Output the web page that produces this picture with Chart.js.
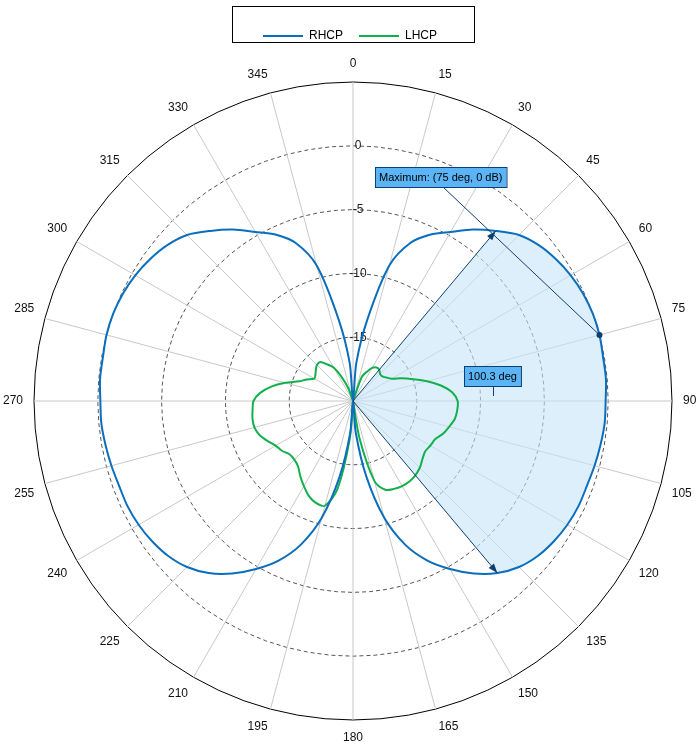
<!DOCTYPE html>
<html>
<head>
<meta charset="utf-8">
<script src="https://cdn.jsdelivr.net/npm/chart.js@4"></script>
<style>
  body { margin: 0; background: #fff; }
  #wrap { width: 700px; height: 750px; }
</style>
</head>
<body>
<div id="wrap"><canvas id="polarChart"></canvas></div>
<script>
// angles every 5 deg, labels shown every 15 deg
const angles = [];
for (let a = 0; a < 360; a += 5) angles.push(a);

const rhcp = [-20, -17, -13.5, -9, -6.8, -5.6, -4.7, -3.6, -2.6, -1.6, -1.0, -0.6,
  -0.3, -0.1, 0, 0, -0.1, -0.1, -0.2, -0.2, -0.3, -0.4, -0.5, -0.5,
  -0.6, -0.8, -1.1, -1.6, -2.4, -3.5, -4.8, -6.2, -8, -10.5, -14, -17.5,
  -20, -17.5, -14, -10.5, -8, -6.2, -4.8, -3.5, -2.4, -1.6, -1.1, -0.8,
  -0.6, -0.5, -0.5, -0.4, -0.3, -0.2, -0.2, -0.1, -0.1, 0, 0, -0.1,
  -0.3, -0.6, -1.0, -1.6, -2.6, -3.6, -4.7, -5.6, -6.8, -9, -13.5, -17];

const lhcp = [-20, -20, -20, -20, -18, -17.5, -17, -16.8, -16.8, -17, -17, -16.8,
  -16.5, -15.8, -15, -14, -13, -12.2, -11.8, -11.8, -11.9, -12.2, -12.5, -12.9,
  -13, -13.1, -12.9, -12.6, -12.4, -12.3, -12.3, -12.4, -12.6, -13.5, -17, -20,
  -20, -17, -13, -11.5, -11.5, -11.8, -12.3, -12.8, -13.3, -13.5, -13.5, -13.2,
  -13, -12.6, -12.2, -12, -12, -12.1, -12.2, -12.7, -13.5, -14.5, -15.5, -16,
  -16.5, -16.4, -16.2, -16, -16, -16.5, -17, -18, -19, -20, -20, -20];

// half-power beam shown as a shaded sector
const beamFrom = 40, beamTo = 140;
const beam = rhcp.map((v, i) => (angles[i] >= beamFrom && angles[i] <= beamTo) ? v : -20);

const radialTicks = [-20, -15, -10, -5, 0, 5];

const legendBox = {
  id: 'legendBox',
  afterDraw(chart) {
    const ctx = chart.ctx;
    ctx.save();
    ctx.strokeStyle = '#000';
    ctx.lineWidth = 1;
    ctx.strokeRect(232.5, 6.5, 242, 36);
    ctx.restore();
  }
};

const markers = {
  id: 'markers',
  afterDatasetsDraw(chart) {
    const s = chart.scales.r, ctx = chart.ctx;
    const c = s.getPointPositionForValue(0, -20);
    const iA = angles.indexOf(beamFrom), iB = angles.indexOf(beamTo), iM = angles.indexOf(75);
    const pA = s.getPointPositionForValue(iA, rhcp[iA]);
    const pB = s.getPointPositionForValue(iB, rhcp[iB]);
    const pM = s.getPointPositionForValue(iM, rhcp[iM]);
    ctx.save();
    ctx.strokeStyle = '#0d3f73';
    ctx.fillStyle = '#0d3f73';
    ctx.lineWidth = 1;
    [pA, pB].forEach(p => {
      ctx.beginPath(); ctx.moveTo(c.x, c.y); ctx.lineTo(p.x, p.y); ctx.stroke();
      const ang = Math.atan2(p.y - c.y, p.x - c.x);
      ctx.beginPath();
      ctx.moveTo(p.x, p.y);
      ctx.lineTo(p.x - 10 * Math.cos(ang - 0.35), p.y - 10 * Math.sin(ang - 0.35));
      ctx.lineTo(p.x - 10 * Math.cos(ang + 0.35), p.y - 10 * Math.sin(ang + 0.35));
      ctx.fill();
    });
    ctx.beginPath(); ctx.arc(pM.x, pM.y, 3, 0, 2 * Math.PI); ctx.fill();
    // maximum label
    ctx.font = '11px Arial, "Liberation Sans", sans-serif';
    const t1 = 'Maximum: (75 deg, 0 dB)';
    const w1 = ctx.measureText(t1).width + 8;
    const bx = 375, by = 167;
    ctx.beginPath(); ctx.moveTo(bx + 68, by + 20); ctx.lineTo(pM.x, pM.y); ctx.stroke();
    ctx.fillStyle = '#5bb4f5';
    ctx.fillRect(bx, by, w1, 20); ctx.strokeRect(bx + 0.5, by + 0.5, w1, 20);
    ctx.fillStyle = '#000';
    ctx.textBaseline = 'middle';
    ctx.fillText(t1, bx + 4, by + 11);
    // beam width label
    const t2 = '100.3 deg';
    const w2 = ctx.measureText(t2).width + 8;
    const cx = 464, cy = 366;
    ctx.fillStyle = '#5bb4f5';
    ctx.fillRect(cx, cy, w2, 20); ctx.strokeRect(cx + 0.5, cy + 0.5, w2, 20);
    ctx.beginPath(); ctx.moveTo(493.5, cy + 20); ctx.lineTo(493.5, cy + 30); ctx.stroke();
    ctx.fillStyle = '#000';
    ctx.fillText(t2, cx + 4, cy + 11);
    ctx.restore();
  }
};

document.addEventListener('DOMContentLoaded', function() {
  const ctx = document.getElementById('polarChart').getContext('2d');
  new Chart(ctx, {
    type: 'radar',
    data: {
      labels: angles,
      datasets: [{
        label: 'RHCP',
        data: rhcp,
        borderColor: '#0a6ebd',
        borderWidth: 2,
        pointRadius: 0,
        fill: false,
        tension: 0.3
      }, {
        label: 'LHCP',
        data: lhcp,
        borderColor: '#12b04c',
        borderWidth: 2,
        pointRadius: 0,
        fill: false,
        tension: 0.3
      }, {
        label: 'beam',
        data: beam,
        borderWidth: 0,
        backgroundColor: 'rgba(200, 228, 250, 0.6)',
        pointRadius: 0,
        fill: 'start',
        tension: 0
      }]
    },
    options: {
      responsive: true,
      maintainAspectRatio: false,
      animation: false,
      layout: { padding: { left: 0, right: 0, top: 14, bottom: 0 } },
      scales: {
        r: {
          min: -20,
          max: 5,
          startAngle: 0,
          afterBuildTicks: function(scale) {
            scale.ticks = radialTicks.map(v => ({ value: v }));
          },
          ticks: {
            color: '#222',
            font: { size: 12, family: 'Arial, "Liberation Sans", sans-serif' },
            showLabelBackdrop: false,
            callback: v => (v === 5 || v === -20) ? '' : '   ' + v
          },
          grid: {
            color: ctx => ctx.tick && ctx.tick.value === 5 ? '#000' : '#555',
            lineWidth: 1
          },
          border: {
            dash: ctx => ctx.tick && ctx.tick.value === 5 ? [] : [4, 3]
          },
          angleLines: {
            color: ctx => (ctx.index % 3 === 0) ? '#c8c8c8' : 'rgba(0,0,0,0)'
          },
          pointLabels: {
            color: '#111',
            padding: 3,
            font: { size: 12, family: 'Arial, "Liberation Sans", sans-serif' },
            callback: (v, i) => (i % 3 === 0) ? String(v) : ''
          }
        }
      },
      plugins: {
        legend: {
          labels: {
            filter: item => item.text !== 'beam',
            usePointStyle: true,
            pointStyle: 'line',
            pointStyleWidth: 40,
            color: '#000',
            padding: 16,
            font: { size: 12, family: 'Arial, "Liberation Sans", sans-serif' }
          }
        },
        tooltip: { enabled: false }
      }
    },
    plugins: [legendBox, markers]
  });
});
</script>
</body>
</html>
